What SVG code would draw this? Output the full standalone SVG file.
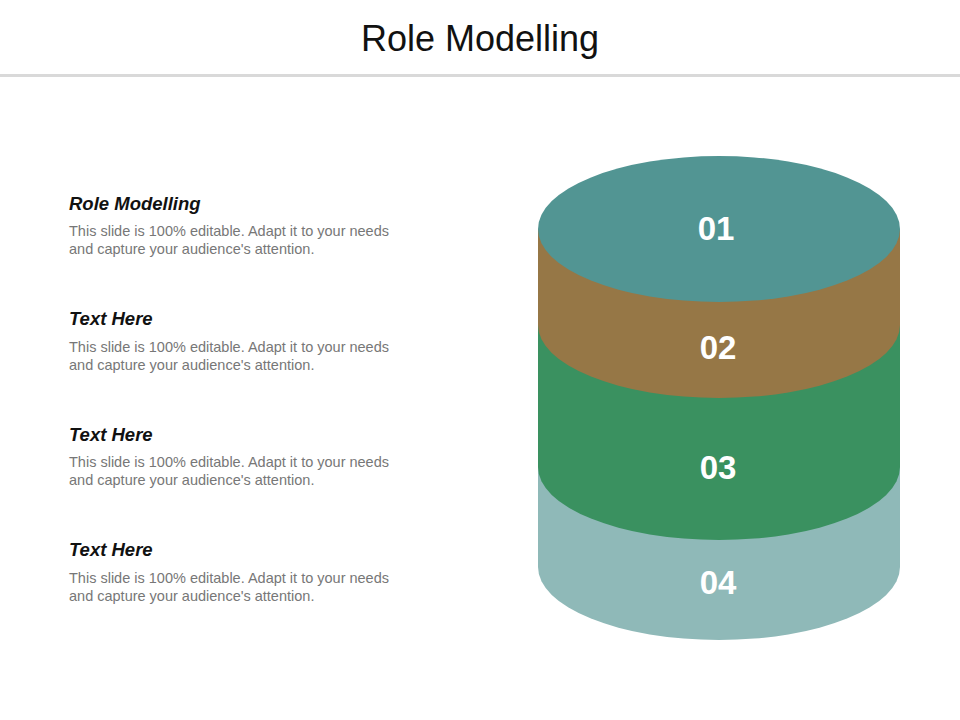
<svg xmlns="http://www.w3.org/2000/svg" width="960" height="720" viewBox="0 0 960 720">
<style>
.h{font-family:"Liberation Sans",Arial,sans-serif;font-size:18.5px;font-weight:bold;font-style:italic;fill:#111}
.b{font-family:"Liberation Sans",Arial,sans-serif;font-size:14.5px;fill:#777}
.n{font-family:"Liberation Sans",Arial,sans-serif;font-size:33px;font-weight:bold;fill:#fff;text-anchor:middle}
</style>
<rect width="960" height="720" fill="#fff"/>
<text x="480" y="51" text-anchor="middle" font-family="Liberation Sans,Arial,sans-serif" font-size="36" fill="#111">Role Modelling</text>
<rect x="0" y="74" width="960" height="3" fill="#d9d9d9"/>
<g id="texts">
<text class="h" x="69" y="210">Role Modelling</text>
<text class="b" x="69" y="236">This slide is 100% editable. Adapt it to your needs</text>
<text class="b" x="69" y="254">and capture your audience's attention.</text>
<text class="h" x="69" y="325">Text Here</text>
<text class="b" x="69" y="352">This slide is 100% editable. Adapt it to your needs</text>
<text class="b" x="69" y="370">and capture your audience's attention.</text>
<text class="h" x="69" y="441">Text Here</text>
<text class="b" x="69" y="467">This slide is 100% editable. Adapt it to your needs</text>
<text class="b" x="69" y="485">and capture your audience's attention.</text>
<text class="h" x="69" y="556">Text Here</text>
<text class="b" x="69" y="583">This slide is 100% editable. Adapt it to your needs</text>
<text class="b" x="69" y="601">and capture your audience's attention.</text>
</g>
<g id="layer4"><path d="M538,467 V567 A181,73 0 0 0 900,567 V467 Z" fill="#8FB9B8"/><text class="n" x="718" y="594">04</text></g>
<g id="layer3"><path d="M538,325 V467 A181,73 0 0 0 900,467 V325 Z" fill="#3A9160"/><text class="n" x="718" y="479">03</text></g>
<g id="layer2"><path d="M538,229 V325 A181,73 0 0 0 900,325 V229 Z" fill="#967746"/><text class="n" x="718" y="359">02</text></g>
<g id="layer1"><ellipse cx="719" cy="229" rx="181" ry="73" fill="#529593"/><text class="n" x="716" y="240">01</text></g>
<g id="connectors"/>
</svg>
